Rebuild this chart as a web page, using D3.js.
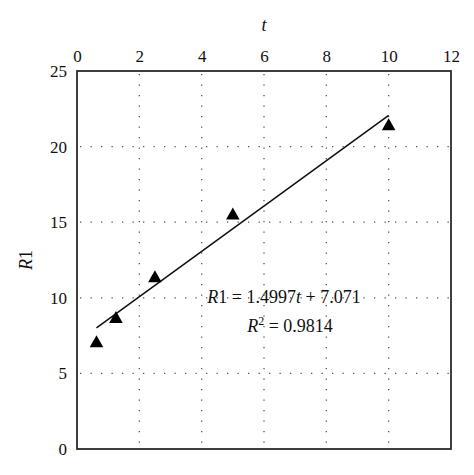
<!DOCTYPE html>
<html><head><meta charset="utf-8">
<script src="https://cdn.jsdelivr.net/npm/d3@7"></script>
<style>body{margin:0;background:#fff}svg{display:block}svg text{font-family:"Liberation Serif","Times New Roman",Times,serif !important;fill:#111}</style>
</head><body><svg id="c" width="474" height="475" font-family="Liberation Serif"></svg>
<script>
const tValues = [0.625, 1.25, 2.5, 5, 10];
const r1Values = [7.1, 8.7, 11.4, 15.55, 21.45];
const xTicks = [0, 2, 4, 6, 8, 10, 12];
const yTicks = [0, 5, 10, 15, 20, 25];
const slope = 1.4997, intercept = 7.071;
const fitRange = [0.625, 10];

const svg = d3.select("#c");
const L = 77, R = 451, T = 71, B = 449;
const x = d3.scaleLinear().domain([0, 12]).range([L, R]);
const y = d3.scaleLinear().domain([0, 25]).range([B, T]);

// grid
const grid = svg.append("g").attr("stroke", "#555").attr("stroke-width", 1.3).attr("stroke-dasharray", "1.3,9.2");
grid.selectAll(".gx").data(xTicks.filter(d => d > 0 && d < 12)).join("line")
  .attr("x1", d => x(d)).attr("x2", d => x(d)).attr("y1", T + 3).attr("y2", B);
grid.selectAll(".gy").data(yTicks.filter(d => d > 0 && d < 25)).join("line")
  .attr("y1", d => y(d)).attr("y2", d => y(d)).attr("x1", L + 3).attr("x2", R);

// frame
svg.append("rect").attr("x", L).attr("y", T).attr("width", R - L).attr("height", B - T)
  .attr("fill", "none").attr("stroke", "#111").attr("stroke-width", 1.6);

// axes (top x, left y) with no tick marks
const xAxis = svg.append("g").attr("transform", `translate(0,${T})`)
  .call(d3.axisTop(x).tickValues(xTicks).tickSize(0).tickPadding(9));
const yAxis = svg.append("g").attr("transform", `translate(${L},0)`)
  .call(d3.axisLeft(y).tickValues(yTicks).tickSize(0).tickPadding(10));
[xAxis, yAxis].forEach(a => {
  a.attr("font-family", "Liberation Serif").attr("font-size", 17);
  a.select(".domain").remove();
  a.selectAll("text").attr("fill", "#111");
});

// axis titles
svg.append("text").attr("x", x(6)).attr("y", 31).attr("text-anchor", "middle")
  .attr("font-size", 18).attr("font-style", "italic").text("t");
svg.append("text").attr("transform", `translate(32,${(T + B) / 2}) rotate(-90)`).attr("text-anchor", "middle")
  .attr("font-size", 18).html('<tspan font-style="italic">R</tspan>1');

// fit line
svg.append("line")
  .attr("x1", x(fitRange[0])).attr("y1", y(slope * fitRange[0] + intercept))
  .attr("x2", x(fitRange[1])).attr("y2", y(slope * fitRange[1] + intercept))
  .attr("stroke", "#111").attr("stroke-width", 1.6);

// markers
const pts = tValues.map((t, i) => ({ t, v: r1Values[i] }));
svg.selectAll(".m").data(pts).join("path")
  .attr("d", d => { const cx = x(d.t), cy = y(d.v); return `M${cx},${cy - 6.5}L${cx + 6.8},${cy + 5.5}L${cx - 6.8},${cy + 5.5}Z`; })
  .attr("fill", "#000");

// equation
svg.append("text").attr("x", 284).attr("y", 303).attr("text-anchor", "middle").attr("font-size", 18)
  .html('<tspan font-style="italic">R</tspan>1 = 1.4997<tspan font-style="italic">t</tspan> + 7.071');
svg.append("text").attr("x", 290).attr("y", 332).attr("text-anchor", "middle").attr("font-size", 18)
  .html('<tspan font-style="italic">R</tspan><tspan dy="-7" font-size="12">2</tspan><tspan dy="7"> = 0.9814</tspan>');
</script></body></html>
